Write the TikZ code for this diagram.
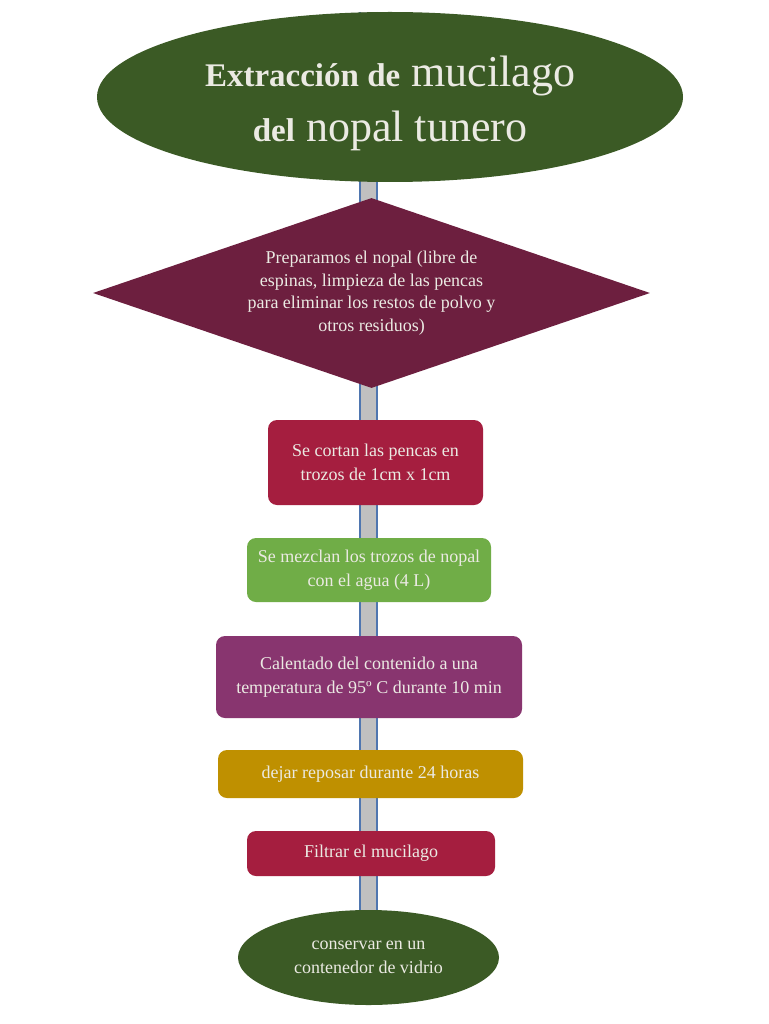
\documentclass[tikz,border=0pt]{standalone}
\usepackage{fontspec}
\setmainfont{Liberation Serif}
\usetikzlibrary{shapes.geometric,backgrounds}
\definecolor{oliveD}{HTML}{3B5A25}
\definecolor{wineD}{HTML}{6D1F3F}
\definecolor{crimsonB}{HTML}{A51E3F}
\definecolor{greenB}{HTML}{70AD47}
\definecolor{purpleB}{HTML}{88356F}
\definecolor{goldB}{HTML}{BF9000}
\definecolor{textc}{HTML}{EBEAE3}
\definecolor{spinefill}{HTML}{C0C0C0}
\definecolor{spineline}{HTML}{4F76B0}
\begin{document}
\begin{tikzpicture}[x=1pt,y=-1pt,
  txt/.style={text=textc, font=\fontsize{18}{23.5}\selectfont, align=center},
  procbox/.style={txt, rounded corners=9pt, inner sep=0pt},
  ovalnode/.style={ellipse, inner sep=0pt, txt},
]
\node[ellipse, fill=oliveD, minimum width=586pt, minimum height=170pt, inner sep=0pt] (title) at (390,97) {};
\node[txt, inner sep=0pt, font=\fontsize{44}{55}\selectfont] (titletext) at ([xshift=0pt,yshift=-6pt]title.center)
  {{\fontsize{33}{40}\selectfont\bfseries Extracción de} mucilago\\
   {\fontsize{33}{40}\selectfont\bfseries del} nopal tunero};
\node[diamond, fill=wineD, inner sep=0pt, aspect=2.93, minimum width=557pt, minimum height=190pt,
      txt, font=\fontsize{18}{22.5}\selectfont] (prep) at (371.5,293)
  {Preparamos el nopal (libre de\\ espinas, limpieza de las pencas\\ para eliminar los restos de polvo y\\ otros residuos)};
\node[procbox, fill=crimsonB, minimum width=215pt, minimum height=85pt] (cut) at (375.5,462.5)
  {Se cortan las pencas en\\ trozos de 1cm x 1cm};
\node[procbox, fill=greenB, minimum width=244pt, minimum height=64pt] (mix) at (369,570)
  {Se mezclan los trozos de nopal\\ con el agua (4 L)};
\node[procbox, fill=purpleB, minimum width=306pt, minimum height=82pt] (heat) at (369,677)
  {Calentado del contenido a una\\ temperatura de 95º C durante 10 min};
\node[procbox, fill=goldB, minimum width=305pt, minimum height=48pt] (rest) at (370.5,774)
  {dejar reposar durante 24 horas};
\node[procbox, fill=crimsonB, minimum width=248pt, minimum height=45pt] (filt) at (371,853.5)
  {Filtrar el mucilago};
\node[ovalnode, fill=oliveD, minimum width=261pt, minimum height=95pt] (keep) at (368.5,957.5)
  {conservar en un\\ contenedor de vidrio};
\begin{pgfonlayer}{background}
  \fill[white] (0,0) rectangle (768,1024);
  \coordinate (spinetop) at (368.5,12);
  \coordinate (spinebot) at (368.5,940);
  \draw[spinefill, line width=17pt] (spinetop) -- (spinebot);
  \draw[spineline, line width=1.1pt] ([xshift=-8.5pt]spinetop) -- ([xshift=-8.5pt]spinebot);
  \draw[spineline, line width=1.1pt] ([xshift=8.5pt]spinetop) -- ([xshift=8.5pt]spinebot);
\end{pgfonlayer}
\end{tikzpicture}
\end{document}
